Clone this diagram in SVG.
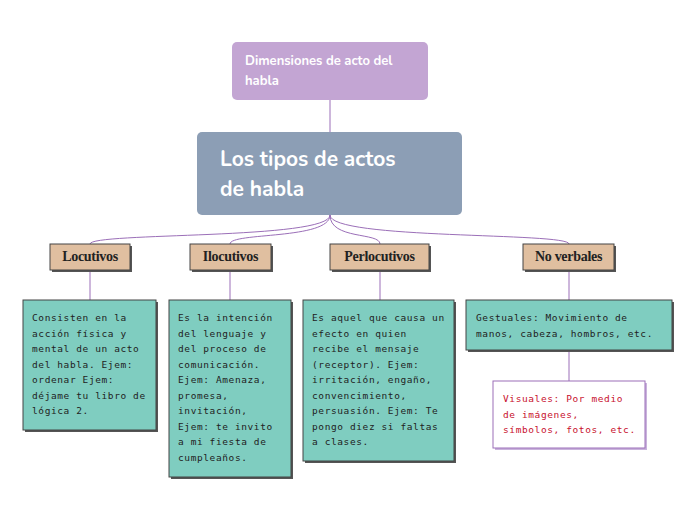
<svg xmlns="http://www.w3.org/2000/svg" width="696" height="520" viewBox="0 0 696 520">
<style>
.lbl{fill:#e0bfa0;stroke:#444;stroke-width:1}
.sh{fill:#555}
.det{fill:#7fcdc0;stroke:#444;stroke-width:1}
.lt{font-family:"Liberation Serif",serif;font-weight:bold;font-size:14px;fill:#222;text-anchor:middle;letter-spacing:-0.3px}
.dt{font-family:"DejaVu Sans Mono",monospace;font-size:9.5px;fill:#222;letter-spacing:0.6px}
.con{fill:none;stroke:#9b6fb8;stroke-width:1}
</style>
<rect width="696" height="520" fill="#ffffff"/>
<g id="connectors">
<path class="con" d="M330,100 V132"/>
<path class="con" d="M330,215 C330,240 90,232 90,244"/>
<path class="con" d="M330,215 C330,240 230,232 230,244"/>
<path class="con" d="M330,215 C330,240 380,232 380,244"/>
<path class="con" d="M330,215 C330,240 569,232 569,244"/>
<path class="con" d="M90,270 V300 M230,270 V300 M380,270 V300 M569,270 V300 M569,350 V381"/>
</g>
<g id="top">
<rect x="232" y="42" width="196" height="58" rx="5" fill="#c3a5d3"/>
<text font-family="Nunito,'Noto Sans',sans-serif" font-weight="bold" font-size="13" fill="#fff"><tspan x="245" y="65">Dimensiones de acto del</tspan><tspan x="245" y="85">habla</tspan></text>
</g>
<g id="main">
<rect x="197" y="132" width="265" height="83" rx="5" fill="#8c9eb5"/>
<text font-family="Nunito,'Noto Sans',sans-serif" font-weight="bold" font-size="21" fill="#fff"><tspan x="220" y="166">Los tipos de actos</tspan><tspan x="220" y="196">de habla</tspan></text>
</g>
<g id="locutivos"><rect class="sh" x="52" y="246" width="80" height="26"/><rect class="lbl" x="50" y="244" width="80" height="26"/><text class="lt" x="90" y="261">Locutivos</text></g>
<g id="ilocutivos"><rect class="sh" x="192" y="246" width="81" height="26"/><rect class="lbl" x="190" y="244" width="81" height="26"/><text class="lt" x="230.5" y="261">Ilocutivos</text></g>
<g id="perlocutivos"><rect class="sh" x="332" y="246" width="99" height="26"/><rect class="lbl" x="330" y="244" width="99" height="26"/><text class="lt" x="379.5" y="261">Perlocutivos</text></g>
<g id="noverbales"><rect class="sh" x="525" y="246" width="91" height="26"/><rect class="lbl" x="523" y="244" width="91" height="26"/><text class="lt" x="568.5" y="261">No verbales</text></g>
<g id="d-loc"><rect class="sh" x="25" y="302" width="133" height="130"/><rect class="det" x="23" y="300" width="133" height="130"/>
<text class="dt"><tspan x="32" y="321">Consisten en la</tspan><tspan x="32" y="336.5">acción física y</tspan><tspan x="32" y="352">mental de un acto</tspan><tspan x="32" y="367.5">del habla. Ejem:</tspan><tspan x="32" y="383">ordenar Ejem:</tspan><tspan x="32" y="398.5">déjame tu libro de</tspan><tspan x="32" y="414">lógica 2.</tspan></text></g>
<g id="d-iloc"><rect class="sh" x="171" y="302" width="122" height="177"/><rect class="det" x="169" y="300" width="122" height="177"/>
<text class="dt"><tspan x="178" y="321">Es la intención</tspan><tspan x="178" y="336.5">del lenguaje y</tspan><tspan x="178" y="352">del proceso de</tspan><tspan x="178" y="367.5">comunicación.</tspan><tspan x="178" y="383">Ejem: Amenaza,</tspan><tspan x="178" y="398.5">promesa,</tspan><tspan x="178" y="414">invitación,</tspan><tspan x="178" y="429.5">Ejem: te invito</tspan><tspan x="178" y="445">a mi fiesta de</tspan><tspan x="178" y="460.5">cumpleaños.</tspan></text></g>
<g id="d-perl"><rect class="sh" x="305" y="302" width="151" height="161"/><rect class="det" x="303" y="300" width="151" height="161"/>
<text class="dt"><tspan x="312" y="321">Es aquel que causa un</tspan><tspan x="312" y="336.5">efecto en quien</tspan><tspan x="312" y="352">recibe el mensaje</tspan><tspan x="312" y="367.5">(receptor). Ejem:</tspan><tspan x="312" y="383">irritación, engaño,</tspan><tspan x="312" y="398.5">convencimiento,</tspan><tspan x="312" y="414">persuasión. Ejem: Te</tspan><tspan x="312" y="429.5">pongo diez si faltas</tspan><tspan x="312" y="445">a clases.</tspan></text></g>
<g id="d-gest"><rect class="sh" x="468" y="302" width="206" height="50"/><rect class="det" x="466" y="300" width="206" height="50"/>
<text class="dt"><tspan x="476" y="321">Gestuales: Movimiento de</tspan><tspan x="476" y="336.5">manos, cabeza, hombros, etc.</tspan></text></g>
<g id="d-vis"><rect x="495" y="383" width="152" height="67" fill="#c9b3dc"/><rect x="493" y="381" width="152" height="67" fill="#fff" stroke="#9b6fb8"/>
<text class="dt" style="fill:#c8102e"><tspan x="503" y="402">Visuales: Por medio</tspan><tspan x="503" y="417.5">de imágenes,</tspan><tspan x="503" y="433">símbolos, fotos, etc.</tspan></text></g>
</svg>
